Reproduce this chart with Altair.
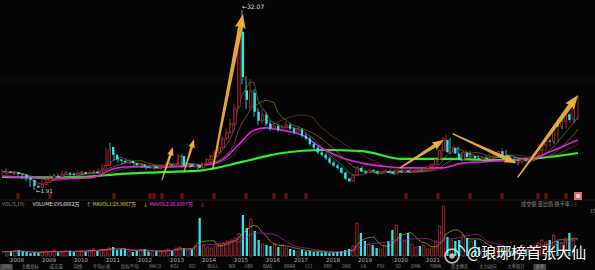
import math
import altair as alt
import pandas as pd

W, H = 595, 270
BG = "#050505"
UP = "#c23434"
DN = "#2ee4ec"
ARROW = "#f4b23f"
CJK = "Noto Sans CJK SC"

# ---------------- data ----------------
open_ = [4.6, 5.0, 4.8, 4.9, 4.6, 4.5, 4.0, 3.6, 2.6, 2.3,
         2.8, 3.2, 3.8, 4.3, 4.1, 4.5, 4.8, 4.6, 4.4, 4.7,
         4.9, 4.6, 4.8, 5.0, 4.7, 5.2, 6.0, 9.1, 7.8, 7.0,
         6.8, 6.5, 6.8, 6.4, 6.0, 6.2, 5.8, 5.6, 5.9, 5.5,
         5.7, 5.8, 6.2, 5.9, 6.0, 7.6, 5.9, 6.2, 5.8, 6.1,
         5.6, 6.3, 7.0, 7.6, 8.2, 9.0, 10.5, 11.5, 13.0, 15.8,
         28.4, 18.6, 15.8, 18.2, 15.0, 13.5, 14.5, 13.0, 12.2, 12.6,
         12.0, 12.4, 12.8, 12.2, 11.6, 12.0, 11.0, 10.5, 9.6, 9.0,
         8.2, 7.8, 7.2, 6.5, 6.0, 5.6, 4.8, 3.8, 3.4, 4.4,
         5.6, 5.0, 4.8, 5.2, 5.0, 4.7, 4.9, 5.1, 5.0, 4.6,
         5.1, 4.9, 5.2, 4.9, 5.1, 5.3, 5.2, 5.5, 5.8, 6.2,
         7.0, 8.5, 10.3, 8.2, 9.0, 8.0, 7.0, 8.2, 7.4, 7.6,
         7.2, 7.0, 7.3, 7.1, 7.5, 7.8, 8.4, 7.6, 7.2, 6.8,
         6.4, 6.6, 7.0, 6.8, 7.4, 7.9, 8.5, 9.4, 10.2, 10.0,
         13.4, 12.5, 13.4, 14.6, 13.8]
close = [5.0, 4.8, 4.9, 4.6, 4.5, 4.0, 3.6, 2.6, 2.3, 2.8,
         3.2, 3.8, 4.3, 4.1, 4.5, 4.8, 4.6, 4.4, 4.7, 4.9,
         4.6, 4.8, 5.0, 4.7, 5.2, 6.0, 8.6, 7.8, 7.0, 6.8,
         6.5, 6.8, 6.4, 6.0, 6.2, 5.8, 5.6, 5.9, 5.5, 5.7,
         5.8, 6.2, 6.0, 6.0, 7.6, 5.9, 6.2, 5.8, 6.1, 5.6,
         6.3, 7.0, 7.6, 8.2, 9.0, 10.5, 11.5, 13.0, 15.5, 28.2,
         20.8, 17.0, 18.5, 15.0, 13.5, 14.5, 13.0, 12.2, 12.6, 12.0,
         12.4, 12.8, 12.2, 11.6, 12.0, 11.0, 10.5, 9.6, 9.0, 8.2,
         7.8, 7.2, 6.5, 6.0, 5.6, 4.8, 3.8, 3.4, 4.4, 5.6,
         5.0, 4.8, 5.2, 5.0, 4.7, 4.9, 5.1, 4.8, 4.6, 5.1,
         4.9, 5.2, 4.9, 5.1, 5.3, 5.2, 5.5, 5.8, 6.2, 7.0,
         8.5, 10.5, 8.2, 9.0, 8.0, 7.0, 8.2, 7.4, 7.6, 7.2,
         7.0, 7.3, 7.1, 7.5, 7.8, 8.4, 7.6, 7.2, 6.8, 6.4,
         6.6, 7.0, 6.8, 7.4, 7.9, 8.5, 9.4, 10.2, 10.0, 12.0,
         12.5, 13.4, 14.5, 13.6, 17.0]
high = [5.4, 5.5, 5.2, 5.1, 4.9, 4.7, 4.2, 3.7, 2.9, 3.0,
        3.5, 4.0, 4.6, 4.6, 4.8, 5.1, 5.0, 4.8, 4.9, 5.2,
        5.1, 5.0, 5.3, 5.2, 5.5, 6.3, 9.0, 9.8, 8.1, 7.4,
        7.1, 7.2, 7.0, 6.6, 6.5, 6.4, 6.0, 6.2, 6.1, 6.0,
        6.1, 6.6, 6.5, 6.3, 8.0, 7.9, 6.6, 6.4, 6.4, 6.3,
        6.6, 7.3, 7.9, 8.6, 9.5, 11.0, 12.2, 13.8, 16.4, 29.0,
        32.07, 21.0, 20.5, 18.8, 15.6, 15.4, 14.9, 13.5, 13.2, 13.0,
        12.9, 13.4, 13.1, 12.5, 12.5, 12.3, 11.4, 10.8, 9.9, 9.3,
        8.6, 8.1, 7.5, 6.8, 6.3, 5.8, 5.0, 4.0, 4.6, 5.9,
        5.9, 5.2, 5.5, 5.4, 5.2, 5.1, 5.4, 5.3, 5.2, 5.4,
        5.4, 5.4, 5.4, 5.3, 5.6, 5.5, 5.8, 6.1, 6.5, 7.4,
        9.0, 11.2, 10.6, 9.5, 9.2, 8.2, 8.6, 8.4, 7.9, 7.8,
        7.4, 7.6, 7.5, 7.8, 8.1, 8.9, 8.6, 7.8, 7.4, 7.0,
        6.9, 7.3, 7.2, 7.7, 8.2, 8.9, 9.8, 10.6, 10.7, 12.4,
        13.9, 13.8, 15.0, 15.0, 17.6]
low = [4.4, 4.6, 4.6, 4.4, 4.2, 3.8, 3.4, 2.4, 1.91, 2.2,
       2.6, 3.1, 3.6, 3.9, 4.0, 4.3, 4.4, 4.2, 4.2, 4.5,
       4.4, 4.4, 4.6, 4.5, 4.6, 5.0, 5.8, 7.5, 6.8, 6.5,
       6.2, 6.3, 6.2, 5.8, 5.8, 5.6, 5.3, 5.4, 5.3, 5.3,
       5.5, 5.6, 5.8, 5.7, 5.9, 5.7, 5.7, 5.6, 5.6, 5.4,
       5.5, 6.1, 6.8, 7.4, 8.0, 8.8, 10.2, 11.2, 12.6, 15.4,
       19.6, 15.5, 15.2, 14.2, 12.8, 13.0, 12.6, 11.8, 11.9, 11.6,
       11.7, 12.1, 11.9, 11.2, 11.3, 10.7, 10.2, 9.3, 8.7, 7.9,
       7.5, 6.9, 6.2, 5.8, 5.3, 4.6, 3.6, 3.2, 3.3, 4.3,
       4.8, 4.6, 4.7, 4.8, 4.5, 4.5, 4.8, 4.6, 4.4, 4.5,
       4.7, 4.8, 4.7, 4.8, 5.0, 5.0, 5.1, 5.4, 5.7, 6.1,
       6.9, 8.3, 7.9, 8.0, 7.7, 6.7, 6.9, 7.2, 7.2, 7.0,
       6.8, 6.9, 6.9, 7.0, 7.3, 7.6, 7.4, 7.0, 6.6, 6.1,
       6.2, 6.5, 6.6, 6.7, 7.2, 7.7, 8.3, 9.2, 9.6, 9.8,
       12.1, 12.2, 13.1, 13.2, 13.6]
volume = [8, 10, 9, 12, 10, 8, 6, 7, 6, 8,
          10, 9, 12, 8, 7, 10, 11, 8, 9, 10,
          9, 12, 14, 10, 13, 12, 16, 18, 12, 14,
          15, 9, 8, 10, 12, 14, 9, 8, 10, 9,
          11, 14, 10, 16, 18, 15, 12, 14, 20, 76,
          22, 18, 16, 20, 24, 26, 30, 32, 36, 45,
          82, 56, 74, 50, 32, 24, 22, 20, 24, 18,
          22, 16, 14, 12, 10, 12, 9, 10, 8, 9,
          7, 8, 6, 7, 8, 10, 12, 14, 20, 66,
          46, 30, 24, 22, 16, 14, 22, 30, 52, 62,
          46, 30, 46, 24, 18, 20, 22, 14, 16, 30,
          60, 100, 38, 32, 30, 32, 42, 36, 30, 32,
          18, 14, 12, 10, 12, 10, 9, 8, 10, 12,
          16, 22, 14, 18, 20, 26, 32, 28, 32, 42,
          30, 26, 36, 46, 34]

# long moving averages
green_idx = [0, 10, 20, 30, 40, 50, 60, 65, 70, 80, 90, 100, 112, 125, 135, 144]
green_val = [4.1, 4.0, 4.1, 4.6, 4.9, 5.2, 6.6, 7.4, 8.1, 8.6, 8.4, 7.1, 7.1, 6.9, 7.3, 8.1]
mag_idx = [0, 7, 14, 22, 25, 28, 32, 40, 50, 55, 59, 63, 66, 70, 75, 80, 85, 90, 95,
           100, 110, 115, 120, 127, 132, 137, 144]
mag_val = [4.2, 4.0, 3.8, 3.9, 4.6, 5.5, 5.8, 5.7, 6.0, 6.9, 9.4, 11.9, 12.3, 11.9, 11.1,
           8.9, 7.3, 6.4, 5.9, 5.6, 5.6, 6.4, 6.6, 6.9, 7.1, 8.3, 10.3]

signal_idx = [4, 12, 28, 37, 38, 40, 45, 53, 61, 68, 71, 76, 101, 109, 117, 125, 134, 136, 141]
last_signal_idx = [144]

years = ["2008", "2009", "2010", "2011", "2012", "2013", "2014", "2015", "2016",
         "2017", "2018", "2019", "2020", "2021"]
year_idx = [2, 10, 18, 26, 34, 42, 50, 58, 66, 73, 81, 89, 98, 106]

# annotation arrows (candle index, price)
arrow_tail_i = [52.75, 40.0, 45.5, 99.5, 112.75, 129.0]
arrow_tail_p = [5.6, 3.6, 4.9, 5.6, 11.3, 4.1]
arrow_head_i = [60.25, 42.75, 48.0, 110.5, 128.5, 144.0]
arrow_head_p = [31.4, 9.1, 10.4, 10.3, 6.4, 17.8]
arrow_big = [1.0, 0.55, 0.55, 0.8, 0.8, 1.0]

tabs = ["分时", "主图指标", "成交量", "均线", "平均价格", "指标平均", "MACD", "KDJ", "RSI",
        "BOLL", "WR", "OBV", "BIAS", "BRAR", "CCI", "DMI", "DKX", "LB", "PSY", "SD",
        "DMA", "TRMA", "资金博弈", "主力动向", "大单统计", "更多"]
legend_parts = ["VOL(5,10)", "VOLUME:195.6662万", "↑", "MAVOL1:28.9067万", "↓",
                "MAVOL2:26.6807万", "↓"]
legend_colors = ["#8a8a8a", "#e8e8e8", "#e0d040", "#e0d040", "#e0d040", "#e040e0", "#e040e0"]
right_text = "成交额   量比值   换手率  [-]"
peak_text = "←32.07"
low_text = "←1.91"
watermark = "@琅琊榜首张大仙"

# ---------------- frames ----------------
n = len(close)
df = pd.DataFrame({"i": list(range(n)), "open": open_, "close": close,
                   "high": high, "low": low, "vol": volume})
df["up"] = df["close"] >= df["open"]
df["col"] = [UP if u else DN for u in df["up"]]

X_DOM = [-0.5, 148.25]
XS = alt.Scale(domain=X_DOM, nice=False, zero=False)
YP = alt.Scale(domain=[0.225, 33.725], range=[200, 0], nice=False, zero=False)
YV = alt.Scale(domain=[0, 100], range=[256, 206], nice=False, zero=True)
PXI = W / (X_DOM[1] - X_DOM[0])
PYP = 200 / (33.725 - 0.225)

xi = alt.X("i:Q", scale=XS, axis=None)


def yp(f):
    return alt.Y(f, scale=YP, axis=None)


def yv(f):
    return alt.Y(f, scale=YV, axis=None)


base = alt.Chart(df)
layers = []

# faint separators
sep = pd.DataFrame({"y": [80, 200], "c": ["#111111", "#1c1c1c"]})
layers.append(alt.Chart(sep).mark_rule(strokeWidth=1).encode(
    x=alt.value(0), x2=alt.value(W), y=alt.Y("y:Q", scale=None),
    color=alt.Color("c:N", scale=None)))

# green / magenta long MAs
gdf = pd.DataFrame({"i": green_idx, "v": green_val})
mdf = pd.DataFrame({"i": mag_idx, "v": mag_val})
layers.append(alt.Chart(gdf).mark_line(color="#2cf02c", strokeWidth=2.2, interpolate="monotone")
              .encode(x=xi, y=yp("v:Q")))

# thin MAs computed from closes
for f, col, w in [(4, "#d9d9d9", 0.5), (9, "#d8b83a", 0.6), (19, "#9a5a2a", 0.7)]:
    layers.append(base.transform_window(m="mean(close)", frame=[-f, 0], sort=[{"field": "i"}])
                  .mark_line(color=col, strokeWidth=w, opacity=0.7)
                  .encode(x=xi, y=yp("m:Q")))

layers.append(alt.Chart(mdf).mark_line(color="#e21ee2", strokeWidth=1.6, interpolate="monotone")
              .encode(x=xi, y=yp("v:Q")))

# candles
layers.append(base.mark_rule(strokeWidth=0.8).encode(
    x=xi, y=yp("low:Q"), y2="high:Q", color=alt.Color("col:N", scale=None)))
layers.append(base.transform_filter("datum.up").mark_bar(size=2.3, fill=BG, stroke=UP, strokeWidth=0.8)
              .encode(x=xi, y=yp("open:Q"), y2="close:Q"))
layers.append(base.transform_filter("!datum.up").mark_bar(size=2.3, color=DN)
              .encode(x=xi, y=yp("open:Q"), y2="close:Q"))

# peak & low labels
pk = pd.DataFrame({"i": [int(df["high"].idxmax())], "p": [max(high)], "t": [peak_text]})
lw = pd.DataFrame({"i": [int(df["low"].idxmin())], "p": [min(low)], "t": [low_text]})
layers.append(alt.Chart(pk).mark_text(align="left", baseline="middle", dx=0, dy=-3, fontSize=6,
                                      color="#e0e0e0", font="DejaVu Sans")
              .encode(x=xi, y=yp("p:Q"), text="t:N"))
layers.append(alt.Chart(lw).mark_text(align="left", baseline="middle", dx=2, dy=1, fontSize=5.5,
                                      color="#d0d0d0", font="DejaVu Sans")
              .encode(x=xi, y=yp("p:Q"), text="t:N"))

# arrows
trail_rows, head_rows = [], []
for k in range(len(arrow_tail_i)):
    s = arrow_big[k]
    dxp = (arrow_head_i[k] - arrow_tail_i[k]) * PXI
    dyp = -(arrow_head_p[k] - arrow_tail_p[k]) * PYP
    L = math.hypot(dxp, dyp)
    ux, uy = dxp / L, dyp / L
    hl = 13 * s + 2
    neck = hl * 0.75
    ni = arrow_head_i[k] - ux * neck / PXI
    npv = arrow_head_p[k] + uy * neck / PYP
    trail_rows.append({"a": k, "o": 0, "i": arrow_tail_i[k], "p": arrow_tail_p[k], "w": 1.2 * s + 0.4})
    trail_rows.append({"a": k, "o": 1, "i": ni, "p": npv, "w": 4.2 * s + 0.6})
    ci = arrow_head_i[k] - ux * (hl / 2) / PXI
    cp = arrow_head_p[k] + uy * (hl / 2) / PYP
    ang = math.degrees(math.atan2(ux, -uy)) % 360
    head_rows.append({"i": ci, "p": cp, "ang": ang, "sz": hl * hl})
tdf = pd.DataFrame(trail_rows)
hdf = pd.DataFrame(head_rows)
layers.append(alt.Chart(tdf).mark_trail(color=ARROW, opacity=0.93).encode(
    x=xi, y=yp("p:Q"), size=alt.Size("w:Q", scale=None), detail="a:N", order="o:Q"))
layers.append(alt.Chart(hdf).mark_point(shape="M0,-1L0.72,0.9L0,0.6L-0.72,0.9Z", filled=True,
                                        color=ARROW, opacity=0.95, strokeWidth=0)
              .encode(x=xi, y=yp("p:Q"), angle=alt.Angle("ang:Q", scale=None),
                      size=alt.Size("sz:Q", scale=None)))

# signal markers
sdf = pd.DataFrame({"i": signal_idx})
layers.append(alt.Chart(sdf).mark_point(shape="M-0.55,-1L0.55,-1L0.55,1L-0.55,1Z", filled=True,
                                        size=36, color="#a01818", strokeWidth=0)
              .encode(x=xi, y=alt.value(196)))
ldf = pd.DataFrame({"i": last_signal_idx})
layers.append(alt.Chart(ldf).mark_square(size=64, color="#e06a6a", opacity=1)
              .encode(x=xi, y=alt.value(196)))
layers.append(alt.Chart(ldf).mark_square(size=14, color="#ffffff")
              .encode(x=xi, y=alt.value(196)))

# volume
layers.append(base.transform_filter("datum.up").mark_bar(size=2.3, fill=BG, stroke="#b83030", strokeWidth=0.8)
              .encode(x=xi, y=yv("vol:Q")))
layers.append(base.transform_filter("!datum.up").mark_bar(size=2.3, color=DN)
              .encode(x=xi, y=yv("vol:Q")))
for f, col in [(4, "#c8b030"), (9, "#c020c0")]:
    layers.append(base.transform_window(m="mean(vol)", frame=[-f, 0], sort=[{"field": "i"}])
                  .mark_line(color=col, strokeWidth=0.7, opacity=0.9)
                  .encode(x=xi, y=yv("m:Q")))


def tw(s, fs):
    return sum(fs if ord(c) > 0x2E7F else fs * 0.6 for c in s)


# legend row of the volume panel
lrows, px = [], 2.0
for t, c in zip(legend_parts, legend_colors):
    lrows.append({"t": t, "c": c, "x": px})
    px += tw(t, 5.0) + 3.5
ldf2 = pd.DataFrame(lrows)
layers.append(alt.Chart(ldf2).mark_text(align="left", baseline="middle", fontSize=5.0, font=CJK)
              .encode(x=alt.X("x:Q", scale=None), y=alt.value(204), text="t:N",
                      color=alt.Color("c:N", scale=None)))
layers.append(alt.Chart(pd.DataFrame({"t": [right_text]})).mark_text(
    align="left", baseline="middle", fontSize=5.2, font=CJK, color="#8a8a8a")
    .encode(x=alt.value(521), y=alt.value(204), text="t:N"))
layers.append(alt.Chart(pd.DataFrame({"t": ["15"]})).mark_text(
    align="left", baseline="middle", fontSize=5, font=CJK, color="#8a8a8a")
    .encode(x=alt.value(590), y=alt.value(211), text="t:N"))

# year labels
ydf = pd.DataFrame({"i": year_idx, "t": years})
layers.append(alt.Chart(ydf).mark_text(align="left", baseline="middle", fontSize=5.5,
                                       font="DejaVu Sans", color="#b0b0b0")
              .encode(x=xi, y=alt.value(260), text="t:N"))

# tab bar
trows, px = [], 2.0
for k, t in enumerate(tabs):
    w = tw(t, 4.4)
    trows.append({"t": t, "x": px, "x0": px - 2, "x1": px + w + 2,
                  "hl": 1 if k in (0, len(tabs) - 1) else 0})
    px += w + 10.6
tbdf = pd.DataFrame(trows)
layers.append(alt.Chart(tbdf).transform_filter("datum.hl == 1").mark_rect(color="#444444")
              .encode(x=alt.X("x0:Q", scale=None), x2="x1:Q", y=alt.value(264), y2=alt.value(270)))
layers.append(alt.Chart(tbdf).mark_text(align="left", baseline="middle", fontSize=4.4, font=CJK,
                                        color="#8c8c8c")
              .encode(x=alt.X("x:Q", scale=None), y=alt.value(267), text="t:N"))

# watermark
layers.append(alt.Chart(pd.DataFrame({"t": [watermark]})).mark_text(
    align="left", baseline="middle", fontSize=15, font=CJK, color="#000000", opacity=0.6)
    .encode(x=alt.value(468), y=alt.value(254), text="t:N"))
layers.append(alt.Chart(pd.DataFrame({"t": [watermark]})).mark_text(
    align="left", baseline="middle", fontSize=15, font=CJK, color="#ffffff")
    .encode(x=alt.value(467), y=alt.value(253), text="t:N"))
logo = pd.DataFrame({"x": [452.0], "y": [256.0]})
layers.append(alt.Chart(logo).mark_point(shape="circle", size=190, filled=False, color="#ffffff",
                                         strokeWidth=1.8)
              .encode(x=alt.X("x:Q", scale=None), y=alt.Y("y:Q", scale=None)))
layers.append(alt.Chart(logo).mark_point(shape="circle", size=30, filled=True, color="#ffffff")
              .encode(x=alt.X("x:Q", scale=None), y=alt.Y("y:Q", scale=None)))
layers.append(alt.Chart(pd.DataFrame({"t": [")"]})).mark_text(
    fontSize=9, font=CJK, color="#ffffff", angle=315, fontWeight="bold")
    .encode(x=alt.value(462), y=alt.value(248), text="t:N"))

chart = alt.layer(*layers).resolve_scale(x="independent", y="independent").properties(
    width=W, height=H, padding=0, autosize="none", background=BG
).configure_view(stroke=None)

chart.save("out.html", embed_options={"renderer": "svg", "actions": False})
